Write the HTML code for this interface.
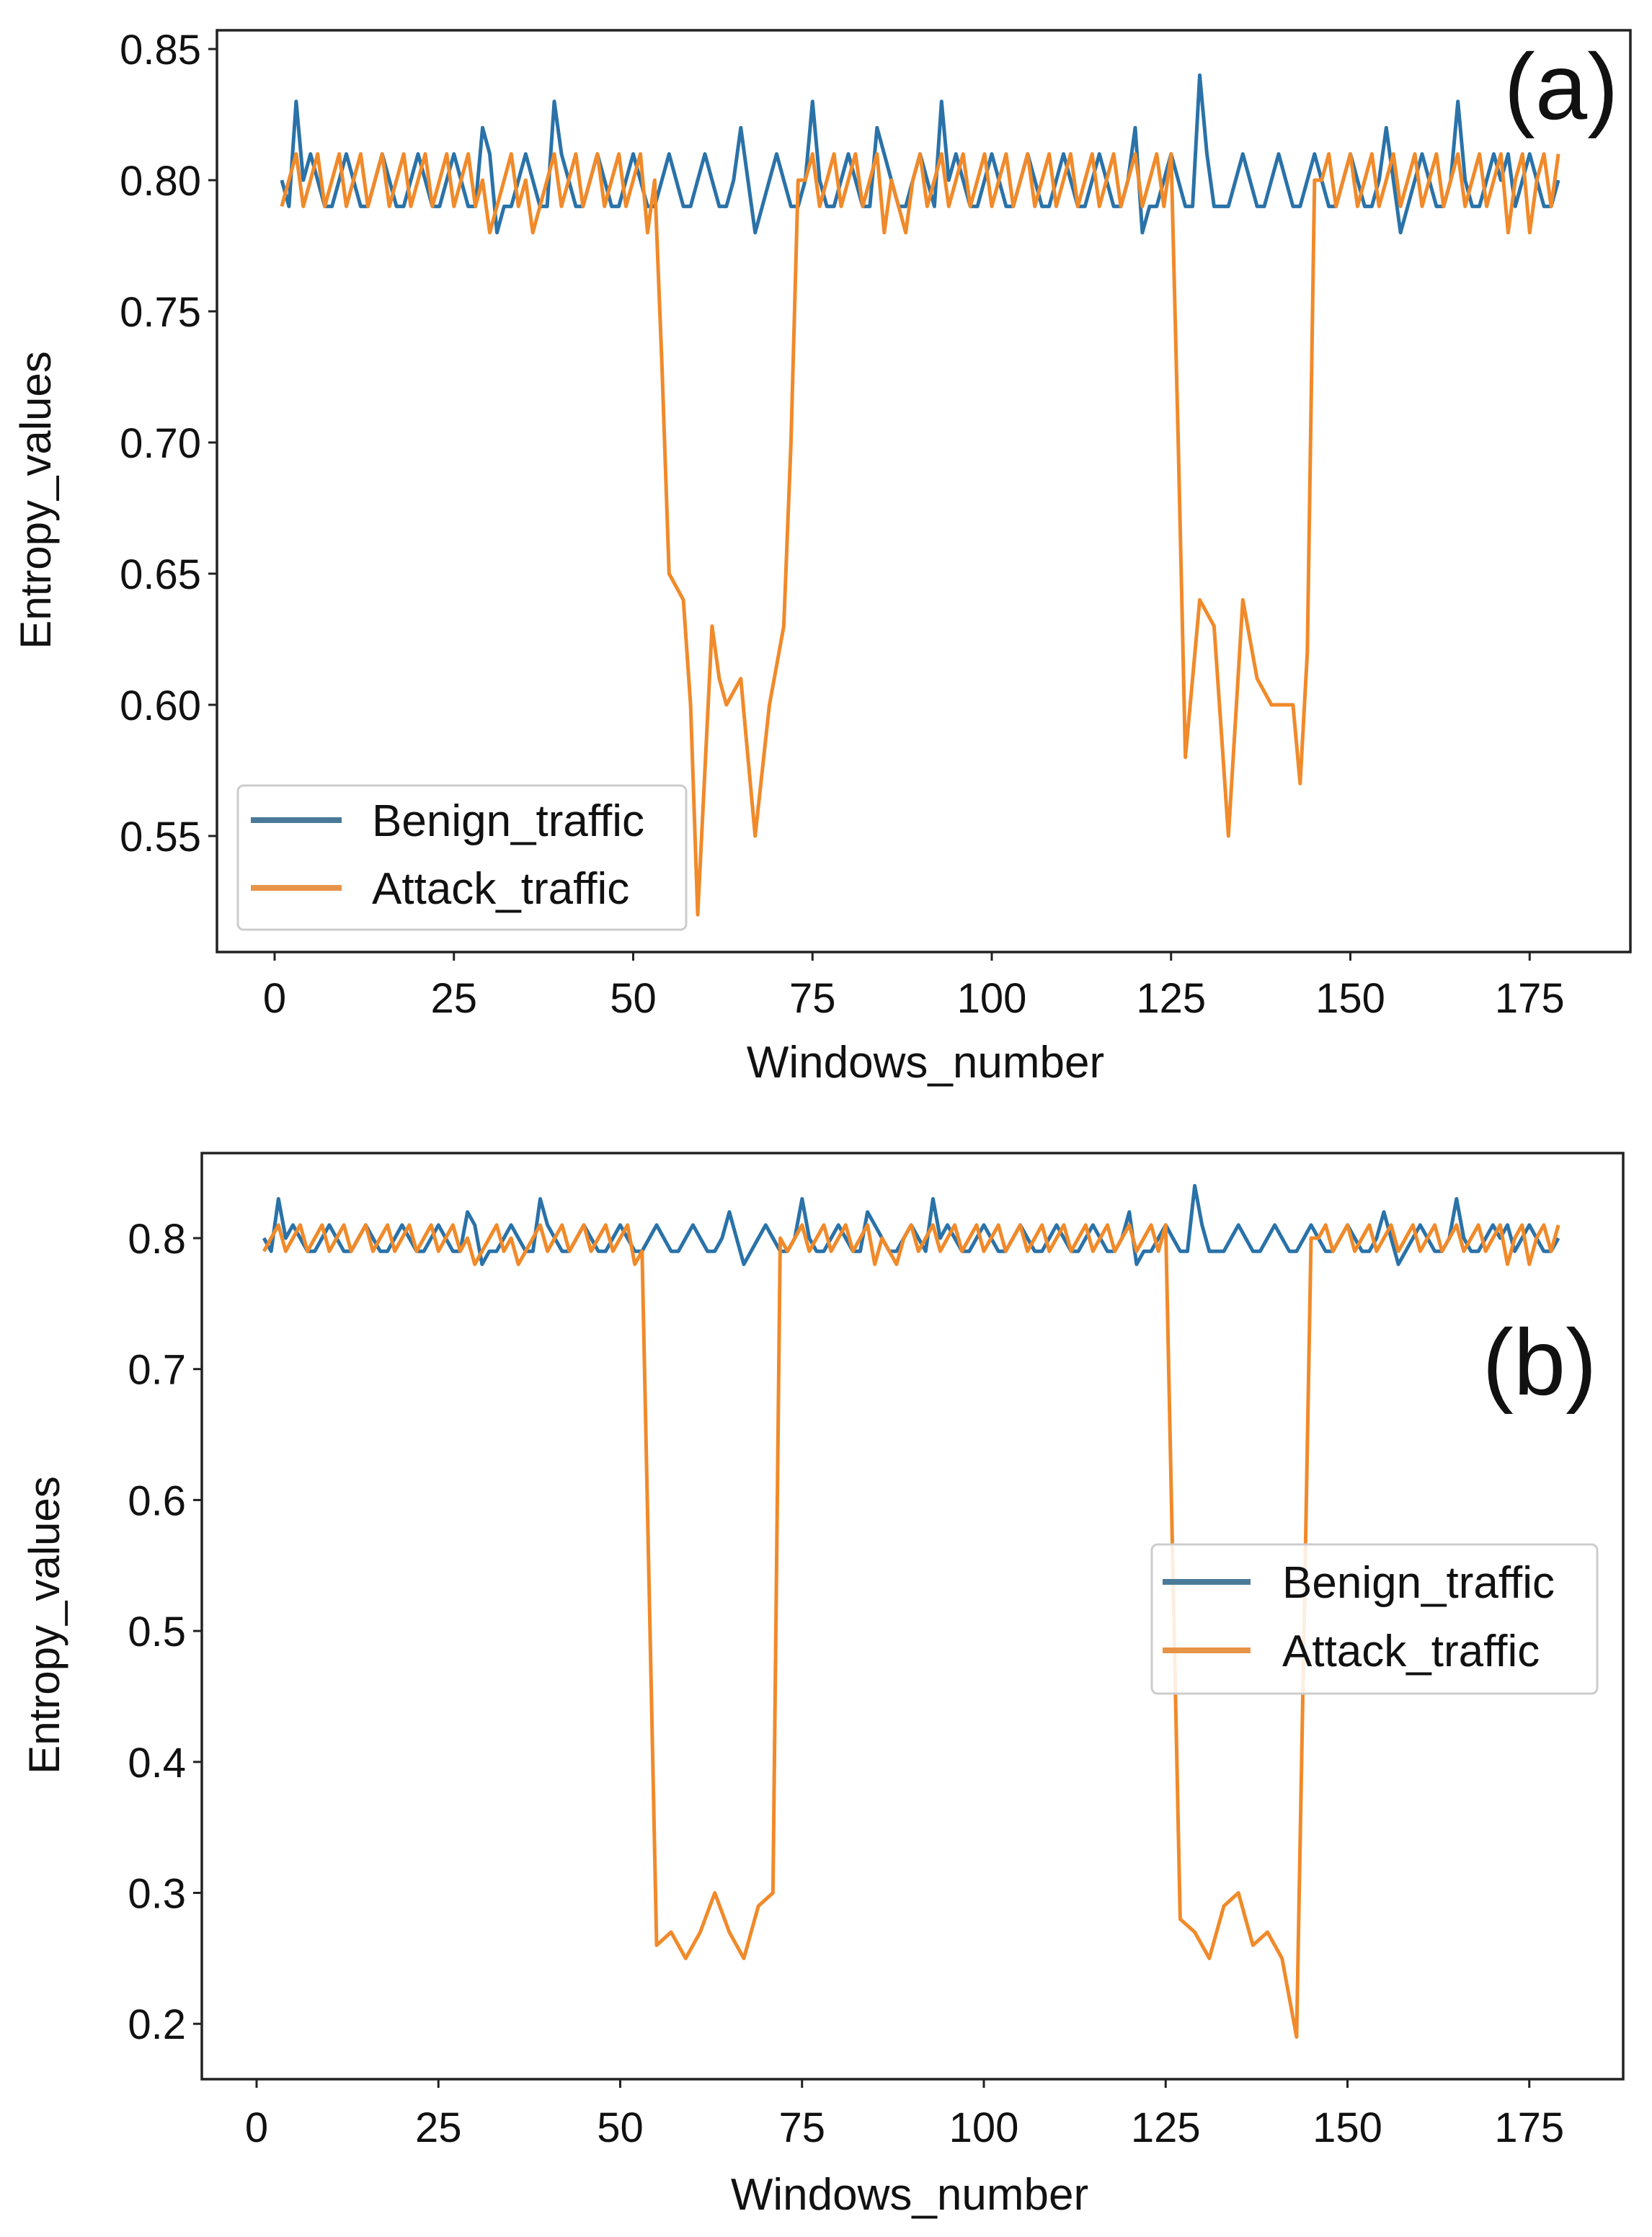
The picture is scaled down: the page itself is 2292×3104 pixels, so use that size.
<!DOCTYPE html>
<html><head><meta charset="utf-8"><style>
html,body{margin:0;padding:0;background:#fff;}
svg{display:block;}
text{font-family:"Liberation Sans","DejaVu Sans",sans-serif;fill:#111;}
</style></head><body>
<svg id="s" width="2292" height="3104" viewBox="0 0 2292 3104" xmlns="http://www.w3.org/2000/svg">
<rect width="2292" height="3104" fill="#fff"/>
<g id="a"></g><g id="b"></g>
</svg>
<script>
var NS="http://www.w3.org/2000/svg";
function el(p,t,at,txt){var e=document.createElementNS(NS,t);for(var k in at)e.setAttribute(k,at[k]);if(txt!==undefined)e.textContent=txt;p.appendChild(e);return e;}
var N=179,ben=[],att=[];
for(var i=1;i<=N;i++){
  var m=i%5; ben[i]=(m==0?0.81:(m==1?0.80:(m==2?0.79:(m==3?0.79:0.80))));
  var k=i%3; att[i]=(k==0?0.81:(k==1?0.79:0.80));
}
var bs={3:0.83,29:0.82,39:0.83,65:0.82,67:0.78,75:0.83,84:0.82,93:0.83,120:0.82,121:0.78,129:0.84,131:0.79,132:0.79,133:0.79,155:0.82,157:0.78,165:0.83,172:0.81,31:0.78,35:0.81};
for(var k in bs)ben[k]=bs[k];
var as={30:0.78,36:0.78,52:0.78,85:0.78,87:0.79,88:0.78,172:0.78,175:0.78,179:0.81};
for(var k in as)att[k]=as[k];
var attA=att.slice(),attB=att.slice();
var dA={53:0.80,54:0.73,55:0.65,57:0.64,58:0.60,59:0.52,61:0.63,62:0.61,63:0.60,65:0.61,66:0.58,67:0.55,69:0.60,71:0.63,72:0.70,73:0.80,
125:0.81,126:0.70,127:0.58,129:0.64,131:0.63,133:0.55,135:0.64,137:0.61,139:0.60,142:0.60,143:0.57,144:0.62,145:0.80};
var dB={53:0.79,55:0.26,57:0.27,59:0.25,61:0.27,63:0.30,65:0.27,67:0.25,69:0.29,71:0.30,72:0.80,
125:0.81,127:0.28,129:0.27,131:0.25,133:0.29,135:0.30,137:0.26,139:0.27,141:0.25,143:0.19,145:0.80};
function fill(arr,d,ranges){for(var r=0;r<ranges.length;r++){var s=ranges[r][0],e=ranges[r][1];var keys=Object.keys(d).map(Number).filter(function(x){return x>=s&&x<=e}).sort(function(a,b){return a-b});
 for(var j=0;j<keys.length-1;j++){var a=keys[j],b=keys[j+1];for(var x=a;x<=b;x++)arr[x]=d[a]+(d[b]-d[a])*(x-a)/(b-a);}}}
fill(attA,dA,[[53,73],[125,145]]);fill(attB,dB,[[53,72],[125,145]]);

function panel(g,o){
  var X=function(i){return o.x0+i*o.dx},Y=function(v){return o.y8-(v-0.8)*o.dy};
  var pb="",pa="";
  for(var i=1;i<=N;i++){pb+=(i==1?"M":"L")+X(i).toFixed(1)+" "+Y(ben[i]).toFixed(1);pa+=(i==1?"M":"L")+X(i).toFixed(1)+" "+Y(o.att[i]).toFixed(1);}
  el(g,"path",{d:pb,fill:"none",stroke:"#2a72a8","stroke-width":5,"stroke-linejoin":"round"});
  el(g,"path",{d:pa,fill:"none",stroke:"#f08a2a","stroke-width":5,"stroke-linejoin":"round"});
  el(g,"rect",{x:o.L,y:o.T,width:o.R-o.L,height:o.B-o.T,fill:"none",stroke:"#222","stroke-width":3.5});
  for(var t=0;t<=175;t+=25){var x=X(t);el(g,"line",{x1:x,y1:o.B,x2:x,y2:o.B+12,stroke:"#222","stroke-width":3});
    el(g,"text",{x:x,y:o.xty,"font-size":58,"text-anchor":"middle"},String(t));}
  for(var j=0;j<o.yt.length;j++){var v=o.yt[j],y=Y(v);el(g,"line",{x1:o.L-12,y1:y,x2:o.L,y2:y,stroke:"#222","stroke-width":3});
    el(g,"text",{x:o.L-22,y:y+21,"font-size":58,"text-anchor":"end"},v.toFixed(o.dec));}
  el(g,"text",{x:o.xlx,y:o.xly,"font-size":62,"text-anchor":"middle"},"Windows_number");
  el(g,"text",{x:0,y:0,"font-size":60,"text-anchor":"middle",transform:"translate("+o.ylx+","+o.yly+") rotate(-90)"},"Entropy_values");
  var lg=o.lg;
  el(g,"rect",{x:lg[0],y:lg[1],width:lg[2],height:lg[3],rx:8,fill:"#fff","fill-opacity":0.85,stroke:"#ccc","stroke-width":3});
  el(g,"line",{x1:lg[4],y1:lg[6],x2:lg[5],y2:lg[6],stroke:"#4a7a98","stroke-width":8});
  el(g,"line",{x1:lg[4],y1:lg[7],x2:lg[5],y2:lg[7],stroke:"#e89448","stroke-width":8});
  el(g,"text",{x:lg[8],y:lg[6]+22,"font-size":62},"Benign_traffic");
  el(g,"text",{x:lg[8],y:lg[7]+22,"font-size":62},"Attack_traffic");
  el(g,"text",{x:o.lab[0],y:o.lab[1],"font-size":130,"text-anchor":"middle"},o.lab[2]);
}
panel(document.getElementById("a"),{L:301,R:2262,T:42,B:1321,x0:381,dx:9.95,y8:250,dy:3640,att:attA,
 yt:[0.55,0.60,0.65,0.70,0.75,0.80,0.85],dec:2,xty:1405,xlx:1284,xly:1495,ylx:70,yly:694,
 lg:[330,1090,622,200,348,474,1138,1232,516],lab:[2166,165,"(a)"]});
panel(document.getElementById("b"),{L:280,R:2252,T:1600,B:2885,x0:356,dx:10.09,y8:1718,dy:1817,att:attB,
 yt:[0.2,0.3,0.4,0.5,0.6,0.7,0.8],dec:1,xty:2972,xlx:1262,xly:3066,ylx:82,yly:2255,
 lg:[1598,2143,618,207,1613,1735,2195,2290,1779],lab:[2136,1935,"(b)"]});
</script>
</body></html>
